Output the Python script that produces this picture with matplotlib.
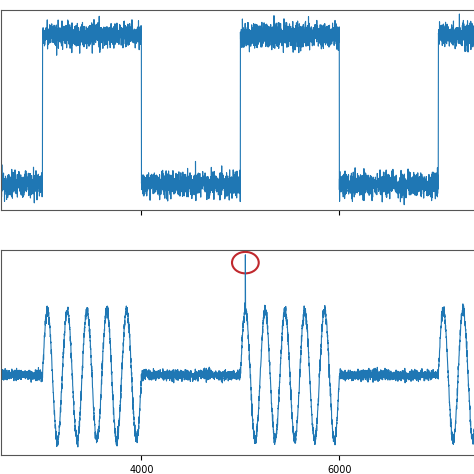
import numpy as np
import matplotlib
matplotlib.use('Agg')
import matplotlib.pyplot as plt
from matplotlib.patches import Ellipse

# segment edges of the square wave and its levels
edges = [2580, 3000, 4000, 5000, 6000, 7000, 7370]
levels = [0, 1, 0, 1, 0, 1]
burst_period = 200
spike_t = 5050
spike_h = 1.85
square_noise = 0.04
sine_noise = 0.04

rng = np.random.default_rng(3)
t = np.arange(edges[0], edges[-1])
square = np.zeros_like(t, dtype=float)
burst = np.zeros_like(t, dtype=float)
for a, b, lv in zip(edges[:-1], edges[1:], levels):
    m = (t >= a) & (t < b)
    square[m] = lv
    if lv:
        burst[m] = np.sin(2 * np.pi * (t[m] - a) / burst_period)
square += rng.normal(0, square_noise, t.size)
burst += rng.normal(0, sine_noise, t.size)
burst[t == spike_t] = spike_h

fig = plt.figure(figsize=(4.74, 4.74), dpi=100)
ax1 = fig.add_axes([0.002, 0.557, 1.0, 0.422])
ax2 = fig.add_axes([0.002, 0.04, 1.0, 0.432])
c = '#1f77b4'
ax1.plot(t, square, color=c, lw=0.8)
ax2.plot(t, burst, color=c, lw=0.8)
ax1.set_ylim(-0.17, 1.17)
ax2.set_ylim(-1.23, 1.92)
for ax in (ax1, ax2):
    ax.set_xlim(edges[0], edges[-1])
    ax.set_xticks([4000, 6000])
    ax.set_yticks([])
    for s in ax.spines.values():
        s.set_color('#555555')
ax1.set_xticklabels([])
ax2.tick_params(labelsize=7)
ax2.add_patch(Ellipse((spike_t, 1.73), 270, 0.33, fill=False, ec='#c0282d', lw=1.5, clip_on=False))
fig.savefig('out.png', dpi=100)
